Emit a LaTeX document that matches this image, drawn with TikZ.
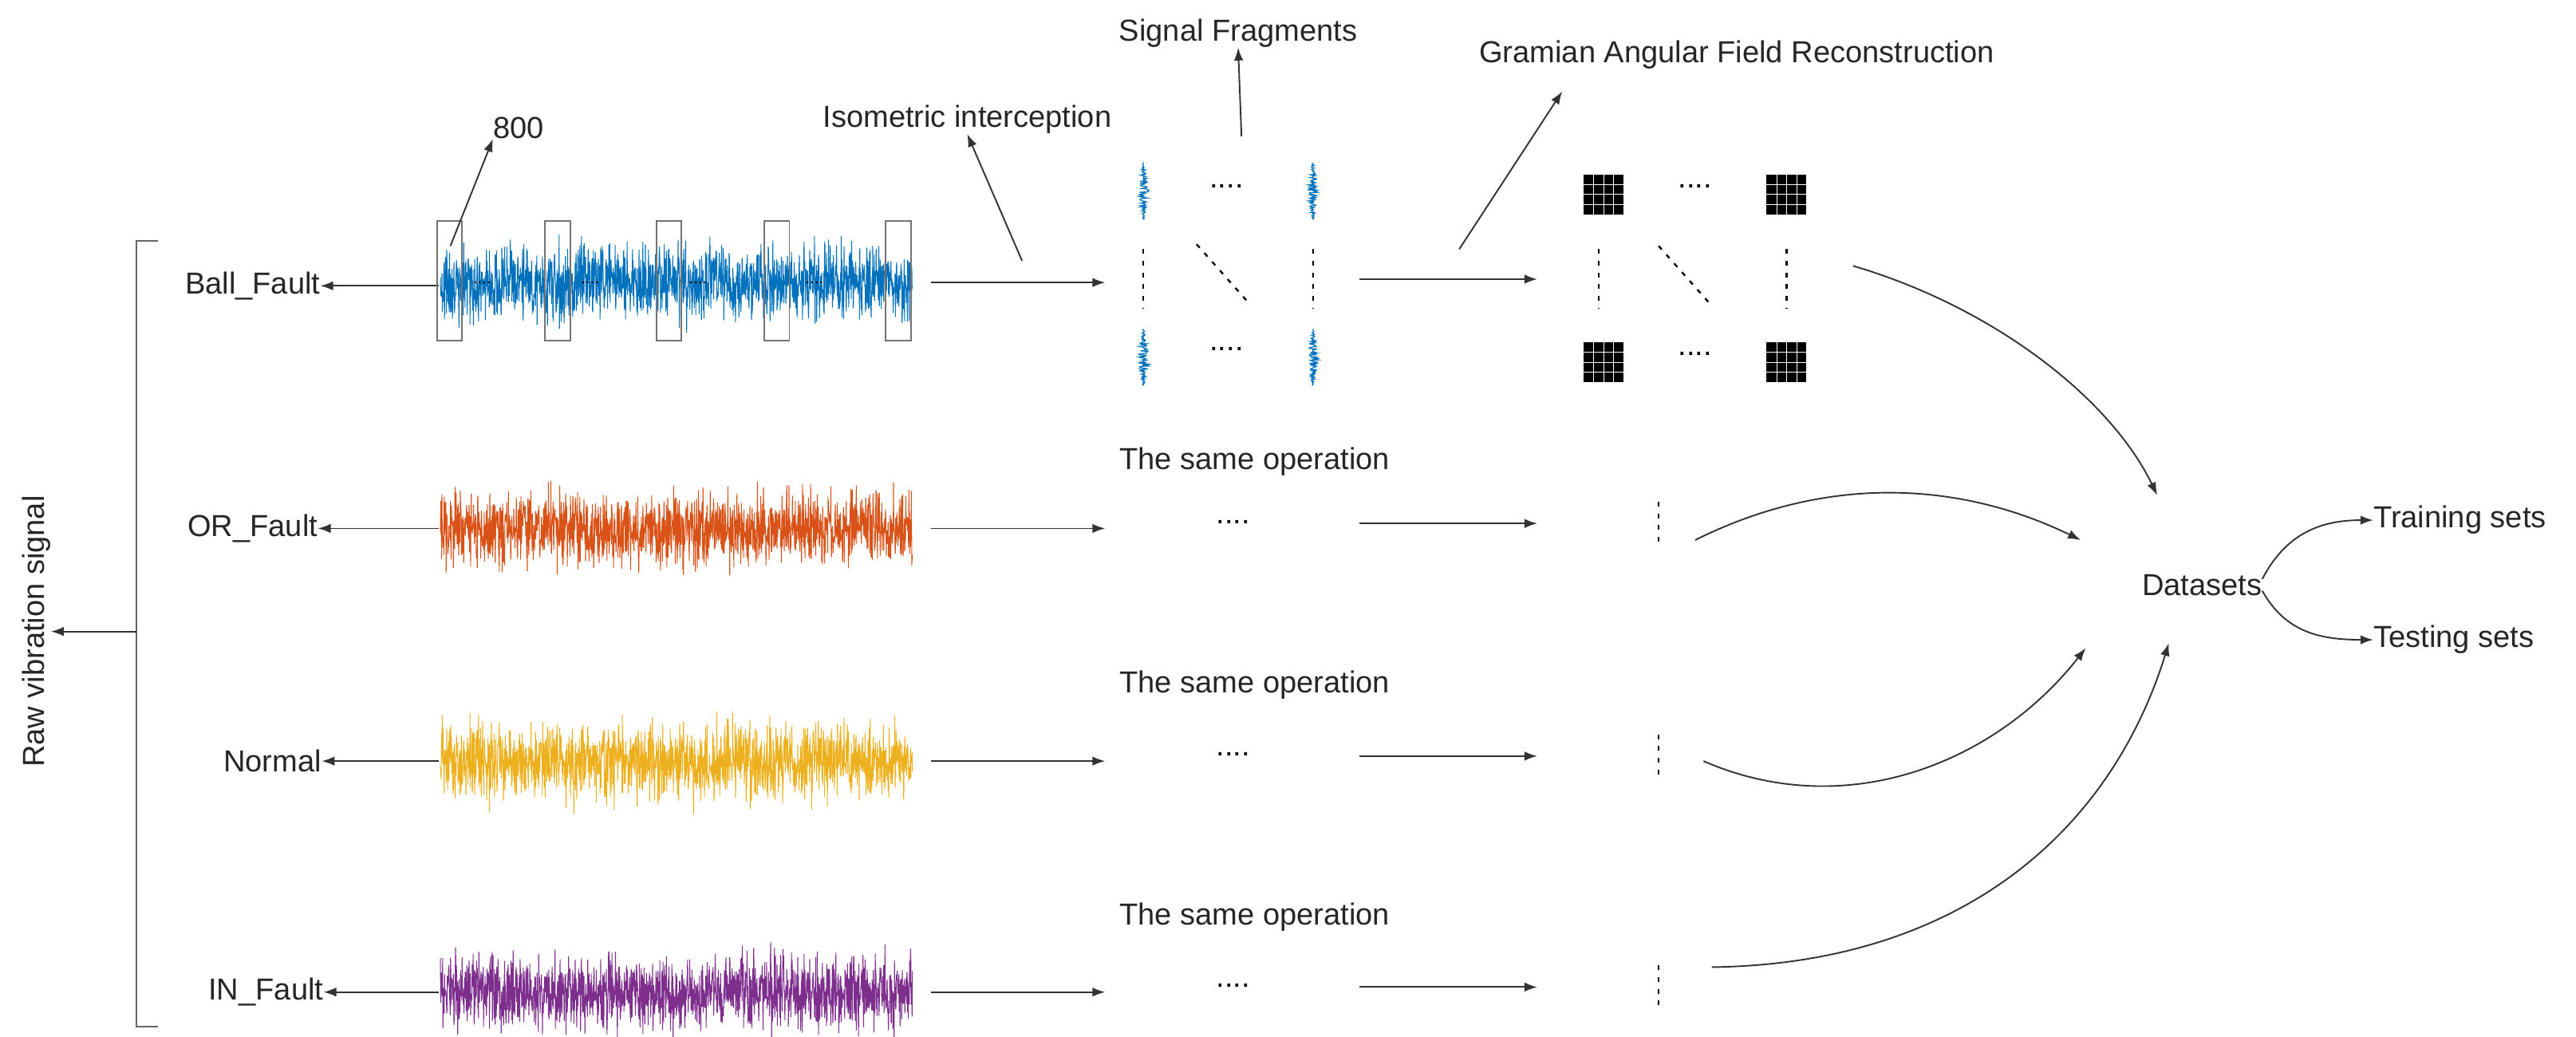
\documentclass[tikz,border=0pt]{standalone}
\usepackage{fontspec}
\setmainfont{Liberation Sans}
\usetikzlibrary{arrows.meta}
\definecolor{cblue}{RGB}{0,114,189}
\definecolor{corange}{RGB}{217,83,25}
\definecolor{cyellow}{RGB}{237,177,32}
\definecolor{cpurple}{RGB}{126,47,142}
\newcommand\mysig[2]{\draw[#1, line width=0.7pt] plot[domain=265:549, samples=1500] (\x,{#2+11*(rand+rand+rand)});}
\newcommand\myfrag[2]{\draw[cblue, line width=0.8pt] plot[domain=-17:17, samples=120] ({#1+3.5*rand*(1-abs(\x)/19)},{#2+\x});}
\newcommand\mygaf[2]{\fill[black] (#1-12,#2-12) rectangle (#1+12,#2+12);
  \foreach \k in {-6,0,6}{\draw[white, line width=0.6pt] (#1+\k,#2-12) -- (#1+\k,#2+12); \draw[white, line width=0.6pt] (#1-12,#2+\k) -- (#1+12,#2+\k);}}
\begin{document}
\begin{tikzpicture}[x=0.5mm,y=-0.5mm,
 lbl/.style={font=\fontsize{26}{31}\selectfont, inner sep=0, text=black!85},
 arr/.style={draw=black!80, line width=1.3pt, -{Latex[length=11pt,width=8pt]}},
 box/.style={draw=black!55, line width=1.3pt},
 vdots/.style={draw=black, line width=1.6pt, dash pattern=on 4pt off 6pt},
 hdots/.style={font=\fontsize{26}{31}\selectfont, inner sep=0}]
\useasboundingbox (0,0) rectangle (1550,623.6);
\pgfmathsetseed{7}
% bracket
\draw[black!60, line width=1.3pt] (95,145) -- (82,145) -- (82,618) -- (95,618);
\coordinate (br) at (82,380);
\node[lbl, rotate=90] (raw) at (22,380) {Raw vibration signal};
\draw[arr] (br) -- (raw.south);
% labels
\node[lbl] (ball) at (152,172) {Ball\_Fault};
\node[lbl] (or) at (152,318) {OR\_Fault};
\node[lbl] (norm) at (164,458) {Normal};
\node[lbl] (in) at (160,597) {IN\_Fault};
% signals
\mysig{cblue}{170}
\mysig{corange}{318}
\mysig{cyellow}{458}
\mysig{cpurple}{597}
\coordinate (s1w) at (264,172); \coordinate (s1e) at (560,170);
\coordinate (s2w) at (264,318); \coordinate (s2e) at (560,318);
\coordinate (s3w) at (264,458); \coordinate (s3e) at (560,458);
\coordinate (s4w) at (264,597); \coordinate (s4e) at (560,597);
\draw[arr] (s1w) -- (ball); \draw[arr] (s2w) -- (or); \draw[arr] (s3w) -- (norm); \draw[arr] (s4w) -- (in);
% windows
\foreach \a in {263,328,395,460,533}{\draw[box] (\a,133) rectangle (\a+15,205);}
\foreach \a in {290,355,420,490}{\node[hdots, font=\fontsize{14}{16}\selectfont] at (\a,170) {....};}
\node[lbl] (n800) at (312,77) {800};
\coordinate (w1) at (271,148);
\draw[arr] (w1) -- (n800.south west);
\node[lbl] (iso) at (582,72) {Isometric interception};
\coordinate (isoa) at (615,157);
\draw[arr] (isoa) -- (iso.south);
% fragments
\coordinate (f1w) at (665,170);
\draw[arr] (s1e) -- (f1w);
\myfrag{688}{115} \myfrag{790}{115} \myfrag{688}{215} \myfrag{790}{215}
\node[hdots] (fd1) at (738,112) {....};
\node[hdots] (fd2) at (738,210) {....};
\draw[vdots] (688,150) -- (688,186);
\draw[vdots] (790,150) -- (790,186);
\draw[vdots] (720,147) -- (752,183);
\node[lbl] (sf) at (745,20) {Signal Fragments};
\coordinate (sfa) at (747,82);
\draw[arr] (sfa) -- (sf.south);
% GAF
\coordinate (f1e) at (818,168); \coordinate (g1w) at (925,168);
\draw[arr] (f1e) -- (g1w);
\mygaf{965}{117} \mygaf{1075}{117} \mygaf{965}{218} \mygaf{1075}{218}
\node[hdots] (gd1) at (1020,112) {....};
\node[hdots] (gd2) at (1020,213) {....};
\draw[vdots] (962,150) -- (962,186);
\draw[vdots] (1075,150) -- (1075,186);
\draw[vdots] (998,148) -- (1030,184);
\node[lbl] (gaf) at (1045,33) {Gramian Angular Field Reconstruction};
\coordinate (gafa) at (878,150);
\draw[arr] (gafa) -- (940,55);
% same operation rows
\foreach \y/\n in {278/a,412/b,552/c}{\node[lbl] (same\n) at (755,\y) {The same operation};}
\foreach \y/\n in {318/2,458/3,597/4}{
 \coordinate (f\n w) at (665,\y);
 \draw[arr] (s\n e) -- (f\n w);
 \node[hdots] (fd\n) at (742,\y-4) {....};
 \coordinate (f\n e) at (818,\y-3); \coordinate (g\n w) at (925,\y-3);
 \draw[arr] (f\n e) -- (g\n w);
 \draw[vdots] (998,\y-16) -- (998,\y+10);
}
% datasets
\node[lbl] (ds) at (1325,352) {Datasets};
\node[lbl, anchor=west] (train) at (1428,313) {Training sets};
\node[lbl, anchor=west] (test) at (1428,385) {Testing sets};
\coordinate (c1) at (1115,160); \coordinate (c2) at (1020,325);
\coordinate (c3) at (1025,458); \coordinate (c4) at (1030,582);
\draw[arr] (c1) .. controls (1200,185) and (1270,240) .. (1298,298);
\draw[arr] (c2) .. controls (1100,285) and (1180,290) .. (1252,325);
\draw[arr] (c3) .. controls (1110,495) and (1200,460) .. (1255,390);
\draw[arr] (c4) .. controls (1180,580) and (1270,500) .. (1305,387);
\draw[arr] (ds.north east) ++(0,3) .. controls (1375,322) and (1395,313) .. (train.west);
\draw[arr] (ds.south east) ++(0,-3) .. controls (1375,380) and (1395,385) .. (test.west);
\end{tikzpicture}
\end{document}
